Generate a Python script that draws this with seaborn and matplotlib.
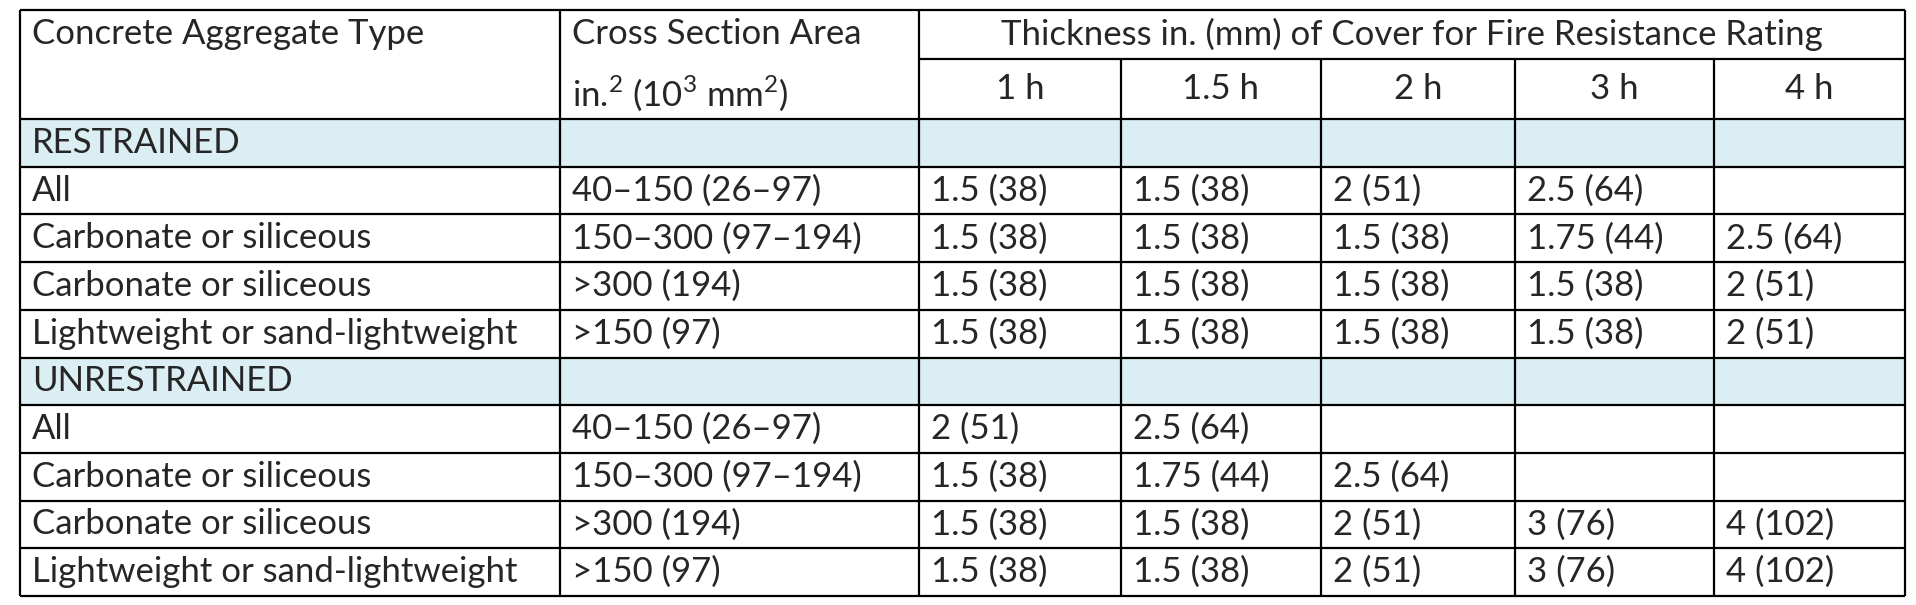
import matplotlib
matplotlib.use("Agg")
import matplotlib.pyplot as plt
import seaborn as sns

sns.set_theme(style="white")
plt.rcParams['font.family'] = ['Lato', 'DejaVu Sans']
plt.rcParams['mathtext.fontset'] = 'custom'
plt.rcParams['mathtext.rm'] = 'Lato'

# table content
hours = ["1 h", "1.5 h", "2 h", "3 h", "4 h"]
groups = ["RESTRAINED", "UNRESTRAINED"]
aggregate = ["All", "Carbonate or siliceous", "Carbonate or siliceous", "Lightweight or sand-lightweight"]
area = ["40–150 (26–97)", "150–300 (97–194)", ">300 (194)", ">150 (97)"]
restrained = [
    ["1.5 (38)", "1.5 (38)", "2 (51)", "2.5 (64)", ""],
    ["1.5 (38)", "1.5 (38)", "1.5 (38)", "1.75 (44)", "2.5 (64)"],
    ["1.5 (38)", "1.5 (38)", "1.5 (38)", "1.5 (38)", "2 (51)"],
    ["1.5 (38)", "1.5 (38)", "1.5 (38)", "1.5 (38)", "2 (51)"],
]
unrestrained = [
    ["2 (51)", "2.5 (64)", "", "", ""],
    ["1.5 (38)", "1.75 (44)", "2.5 (64)", "", ""],
    ["1.5 (38)", "1.5 (38)", "2 (51)", "3 (76)", "4 (102)"],
    ["1.5 (38)", "1.5 (38)", "2 (51)", "3 (76)", "4 (102)"],
]

# layout in pixels
xs = [20, 560, 919, 1121, 1321, 1515, 1714, 1905]
top, split, hbot, bottom = 10, 59, 119, 596
nrows = 10
rh = (bottom - hbot) / nrows
fs = 25
blue = "#DAEEF3"
pad = 12

fig = plt.figure(figsize=(19.16, 6.05), dpi=100)
ax = fig.add_axes([0, 0, 1, 1])
ax.set_xlim(0, 1916)
ax.set_ylim(605, 0)
ax.axis("off")

rows = []
for g, block in zip(groups, [restrained, unrestrained]):
    rows.append((g, None, None))
    for a, ar, vals in zip(aggregate, area, block):
        rows.append((a, ar, vals))

for i, (a, ar, vals) in enumerate(rows):
    y0 = hbot + i * rh
    yc = y0 + rh / 2
    if ar is None:
        ax.fill_between([xs[0], xs[-1]], y0, y0 + rh, color=blue, lw=0)
    ax.text(xs[0] + pad, yc, a, fontsize=fs, va="center", ha="left")
    if ar is not None:
        ax.text(xs[1] + pad, yc, ar, fontsize=fs, va="center", ha="left")
        for j, v in enumerate(vals):
            ax.text(xs[2 + j] + pad, yc, v, fontsize=fs, va="center", ha="left")

# header
yc1 = (top + split) / 2
yc2 = (split + hbot) / 2
ax.text(xs[0] + pad, yc1, "Concrete Aggregate Type", fontsize=fs, va="center")
ax.text(xs[1] + pad, yc1, "Cross Section Area", fontsize=fs, va="center")
ax.text(xs[1] + pad, yc2 + 4, r"in.$^{2}$ (10$^{3}$ mm$^{2}$)", fontsize=fs, va="center")
ax.text((xs[2] + xs[-1]) / 2, yc1, "Thickness in. (mm) of Cover for Fire Resistance Rating",
        fontsize=fs, va="center", ha="center")
for j, h in enumerate(hours):
    ax.text((xs[2 + j] + xs[3 + j]) / 2, yc2, h, fontsize=fs, va="center", ha="center")

# grid lines
lw = 1.6
ax.hlines([top, bottom], xs[0], xs[-1], color="black", lw=lw)
ax.hlines(split, xs[2], xs[-1], color="black", lw=lw)
ax.hlines([hbot + k * rh for k in range(nrows)], xs[0], xs[-1], color="black", lw=lw)
ax.vlines([xs[0], xs[1], xs[2], xs[-1]], top, bottom, color="black", lw=lw)
ax.vlines(xs[3:-1], split, bottom, color="black", lw=lw)

fig.savefig("out.png", dpi=100, facecolor="white")
